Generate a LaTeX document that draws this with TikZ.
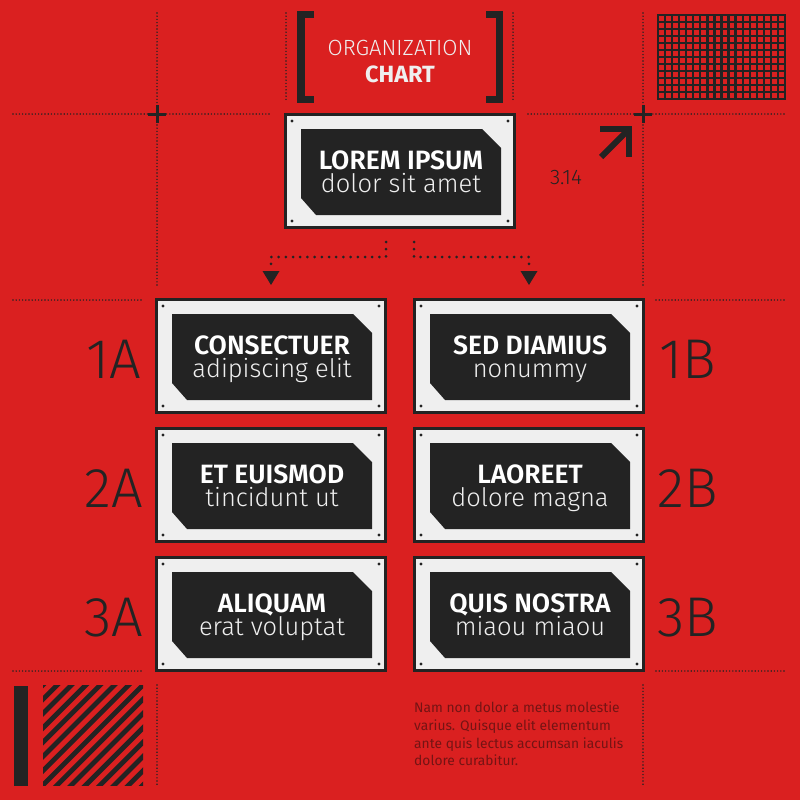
\documentclass[tikz,border=0pt]{standalone}
\usepackage{fontspec}
\setmainfont{Fira Sans}
\newfontfamily\lightf{Fira Sans Light}
\usetikzlibrary{calc}
\definecolor{bgred}{HTML}{DA2020}
\definecolor{ink}{HTML}{232323}
\definecolor{plate}{HTML}{EFEFEF}
\definecolor{paraink}{HTML}{741414}
\tikzset{
 thindots/.style={draw=ink, line width=1.6pt, line cap=round, dash pattern=on 0pt off 3.2pt},
 bigdots/.style={draw=ink, line width=3pt, line cap=round, dash pattern=on 0pt off 7.2pt},
 plateframe/.style={draw=ink, fill=plate, line width=3pt, minimum width=229pt, minimum height=113pt, inner sep=0pt},
 platetext/.style={text=white, font=\lightf\fontsize{25.5}{23.5}\selectfont, align=center, anchor=north, inner sep=0pt},
 sidelabel/.style={text=ink, font=\lightf\fontsize{56}{56}\selectfont, anchor=base, inner sep=0pt},
 headtext/.style={text=plate, font=\lightf\fontsize{22}{27}\selectfont, align=center, anchor=north, inner sep=0pt},
 paratext/.style={text=paraink, font=\fontsize{13.8}{17.6}\selectfont, inner sep=0pt, align=left},
 bracketline/.style={draw=ink, line width=7.5pt, miter limit=10},
 crossmark/.style={draw=ink, line width=3pt},
}
\newcommand\orgplate[5]{%
  \node[plateframe] (#1) at (#2,#3) {};
  \fill[ink] ($(#1.north west)+(17,16)$) -- ($(#1.north east)+(-34,16)$) -- ($(#1.north east)+(-15,35)$) -- ($(#1.south east)+(-15,-14)$) -- ($(#1.south west)+(32,-14)$) -- ($(#1.south west)+(17,-31)$) -- cycle;
  \fill[ink] ($(#1.north west)+(8,8)$) circle (1.7pt);
  \fill[ink] ($(#1.north east)+(-8,8)$) circle (1.7pt);
  \fill[ink] ($(#1.south east)+(-8,-8)$) circle (1.7pt);
  \fill[ink] ($(#1.south west)+(8,-8)$) circle (1.7pt);
  \node[platetext] (#1-text) at ($(#1.center)+(1,-20.5)$) {{\bfseries\fontsize{26.5}{23.5}\selectfont #4}\\{\color{plate}#5}};
}
\begin{document}
\begin{tikzpicture}[x=1pt,y=-1pt]
\fill[bgred] (0,0) rectangle (800,800);
\useasboundingbox (0,0) rectangle (800,800);
% guide lines
\draw[thindots] (13,114) -- (272,114);
\draw[thindots] (528,114) -- (787,114);
\draw[thindots] (157,13) -- (157,287);
\draw[thindots] (643,13) -- (643,287);
\draw[thindots] (286,13) -- (286,100);
\draw[thindots] (513,13) -- (513,100);
\draw[thindots] (13,300) -- (144,300);
\draw[thindots] (656,300) -- (787,300);
\draw[thindots] (13,671) -- (144,671);
\draw[thindots] (656,671) -- (787,671);
\draw[thindots] (157,685) -- (157,787);
\draw[thindots] (643,685) -- (643,787);
% crosses
\draw[crossmark] (148,114) -- (166,114) (157,105) -- (157,123);
\draw[crossmark] (634,114) -- (652,114) (643,105) -- (643,123);
% brackets
\draw[bracketline] (314,14.75) -- (300.75,14.75) -- (300.75,99.25) -- (314,99.25);
\draw[bracketline] (486,14.75) -- (499.25,14.75) -- (499.25,99.25) -- (486,99.25);
\node[headtext] (head) at (400,40) {ORGANIZATION\\{\rmfamily\bfseries\fontsize{23.5}{27}\selectfont CHART}};
% grid
\draw[ink, line width=2.2pt] (658.1,15.1) rectangle (784.9,98.9);
\foreach \i in {1,...,17} \draw[ink, line width=2.2pt] ({658.1+\i*126.8/18},15.1) -- ({658.1+\i*126.8/18},98.9);
\foreach \j in {1,...,11} \draw[ink, line width=2.2pt] (658.1,{15.1+\j*83.8/12}) -- (784.9,{15.1+\j*83.8/12});
% arrow mark
\draw[ink, line width=6pt] (600,129) -- (629,129) -- (629,157);
\draw[ink, line width=6pt] (629,129) -- (601,157);
\node[text=ink, font=\lightf\fontsize{21}{21}\selectfont, anchor=base, inner sep=0pt] (pi) at (566,184) {3.14};
% plates
\orgplate{top}{400}{171}{LOREM IPSUM}{dolor sit amet}
\orgplate{b1a}{271}{356}{CONSECTUER}{adipiscing elit}
\orgplate{b1b}{529}{356}{SED DIAMIUS}{nonummy}
\orgplate{b2a}{271}{485}{ET EUISMOD}{tincidunt ut}
\orgplate{b2b}{529}{485}{LAOREET}{dolore magna}
\orgplate{b3a}{271}{614}{ALIQUAM}{erat voluptat}
\orgplate{b3b}{529}{614}{QUIS NOSTRA}{miaou miaou}
% connectors
\draw[bigdots] ($(top.south)+(-14,13)$) |- ($(b1a.north)+(0,-41)$) -- ($(b1a.north)+(0,-33)$);
\draw[bigdots] ($(top.south)+(14,13)$) |- ($(b1b.north)+(0,-41)$) -- ($(b1b.north)+(0,-33)$);
\fill[ink] ($(b1a.north)+(-8.5,-27)$) -- ($(b1a.north)+(8.5,-27)$) -- ($(b1a.north)+(0,-13)$) -- cycle;
\fill[ink] ($(b1b.north)+(-8.5,-27)$) -- ($(b1b.north)+(8.5,-27)$) -- ($(b1b.north)+(0,-13)$) -- cycle;
% side labels
\node[sidelabel] (l1a) at (114,378) {1A};
\node[sidelabel] (l2a) at (114,507) {2A};
\node[sidelabel] (l3a) at (114,636) {3A};
\node[sidelabel] (l1b) at (688,378) {1B};
\node[sidelabel] (l2b) at (688,507) {2B};
\node[sidelabel] (l3b) at (688,636) {3B};
% bottom decorations
\fill[ink] (14,686) rectangle (28,786);
\begin{scope}
\clip (43,685) rectangle (143,785);
\foreach \k in {0,...,14} \draw[ink, line width=4.8pt] ({728+\k*200/14-790},790) -- ({728+\k*200/14-680},680);
\end{scope}
\node[paratext, anchor=north west] (para) at (414,702) {Nam non dolor a metus molestie\\varius. Quisque elit elementum\\ante quis lectus accumsan iaculis\\dolore curabitur.};
\end{tikzpicture}
\end{document}
